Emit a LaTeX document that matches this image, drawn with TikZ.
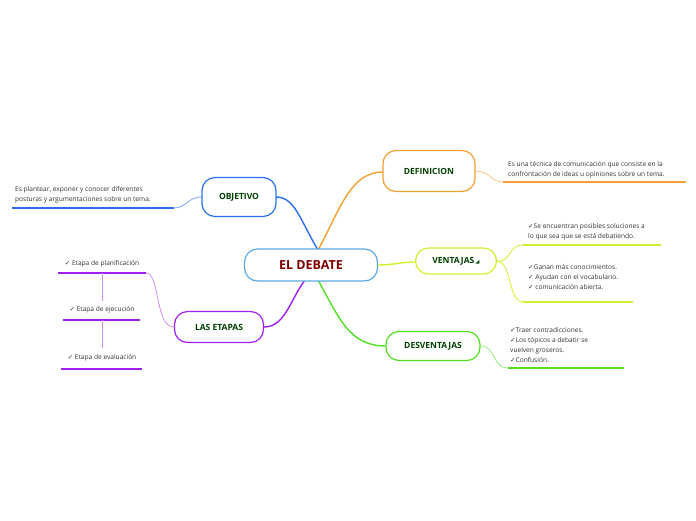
\documentclass[tikz,border=0pt]{standalone}
\usepackage{fontspec}
\setmainfont{Open Sans}
\newfontfamily\djv{DejaVu Sans}
\newcommand\ck{{\djv\char"2713}}
\begin{document}
\begin{tikzpicture}[x=1pt,y=-1pt,
  main/.style={draw,rounded corners=13pt,line width=1.2pt,font=\fontsize{8.5}{10}\selectfont\bfseries,text=green!25!black,fill=white},
  leaf/.style={font=\fontsize{6.6}{9.8}\selectfont,text=black!80,align=left,anchor=west,inner sep=0},
  conn/.style={line width=1.4pt},
  thin/.style={line width=0.8pt},
  ul/.style={line width=1.5pt}]
\useasboundingbox (0,0) rectangle (696,520);
\definecolor{cblue}{HTML}{2A6EF0}\definecolor{corange}{HTML}{F5A030}
\definecolor{cyel}{HTML}{D4EE2C}\definecolor{cgreen}{HTML}{50E020}
\definecolor{cpurp}{HTML}{A020F0}\definecolor{clb}{HTML}{5AA9E6}
% connectors center->main
\coordinate (c1) at (318,250);\coordinate (c2) at (318,280);\coordinate (c3) at (305,280);\coordinate (c4) at (376,265);
\draw[conn,cblue] (c1) .. controls (300,220) and (295,197) .. (276,197);
\draw[conn,corange] (c1) .. controls (340,210) and (350,172) .. (383,172);
\draw[conn,cyel] (c4) .. controls (395,265) and (400,262) .. (416,262);
\draw[conn,cgreen] (c2) .. controls (340,320) and (350,346) .. (386,346);
\draw[conn,cpurp] (c3) .. controls (290,300) and (285,327) .. (264,327);
\node[main,draw=clb,minimum width=133pt,minimum height=32pt,font=\fontsize{12.5}{14}\selectfont\bfseries,text=red!50!black] (center) at (311,265) {EL DEBATE};
\node[main,draw=cblue,minimum width=74pt,minimum height=39pt] (obj) at (239,197) {OBJETIVO};
\node[main,draw=corange,minimum width=92pt,minimum height=41pt] (def) at (429,171) {DEFINICION};
\node[main,draw=cyel,minimum width=81pt,minimum height=26pt] (ven) at (456,261) {VENTAJAS\,{\djv\fontsize{5}{5}\selectfont\char"25E2}};
\node[main,draw=cgreen,minimum width=94pt,minimum height=29pt] (des) at (433,346) {DESVENTAJAS};
\node[main,draw=cpurp,minimum width=89pt,minimum height=31pt] (eta) at (219,327) {LAS ETAPAS};
% leaves
\coordinate (uo1) at (12,208);\coordinate (uo2) at (174,208);
\node[leaf] (to) at (15,195) {Es plantear, exponer y conocer diferentes\\posturas y argumentaciones sobre un tema.};
\draw[ul,cblue] (uo1)--(uo2);
\draw[thin,cblue!60] (obj.west) .. controls (188,197) and (186,208) .. (uo2);
\coordinate (ud1) at (503,182);\coordinate (ud2) at (686,182);
\node[leaf] (td) at (508,170) {Es una técnica de comunicación que consiste en la\\confrontación de ideas u opiniones  sobre un tema.};
\draw[ul,corange] (ud1)--(ud2);
\draw[thin,corange!60] (def.east) .. controls (492,172) and (490,182) .. (ud1);
\coordinate (uv1) at (523,245);\coordinate (uv2) at (661,245);
\coordinate (uv3) at (523,302);\coordinate (uv4) at (633,302);
\node[leaf] (tv1) at (528,232) {\ck Se encuentran posibles soluciones a\\lo que sea que se está debatiendo.};
\node[leaf] (tv2) at (528,277) {\ck Ganan más conocimientos.\\\ck{} Ayudan con el vocabulario.\\\ck{} comunicación abierta.};
\draw[ul,cyel] (uv1)--(uv2);\draw[ul,cyel] (uv3)--(uv4);
\draw[thin,cyel] (ven.east) .. controls (512,262) and (508,245) .. (uv1);
\draw[thin,cyel] (ven.east) .. controls (512,262) and (508,302) .. (uv3);
\coordinate (us1) at (508,368);\coordinate (us2) at (624,368);
\node[leaf] (ts) at (510,345) {\ck Traer contradicciones.\\\ck Los tópicos a debatir se\\vuelven groseros.\\\ck Confusión.};
\draw[ul,cgreen] (us1)--(us2);
\draw[thin,cgreen!60] (des.east) .. controls (496,346) and (492,368) .. (us1);
\coordinate (ue1) at (58,273);\coordinate (ue2) at (146,273);
\coordinate (ue3) at (63,320);\coordinate (ue4) at (140,320);
\coordinate (ue5) at (61,369);\coordinate (ue6) at (142,369);
\coordinate (v1) at (102,273);\coordinate (v2) at (102,301);
\coordinate (v3) at (102,320);\coordinate (v4) at (102,348);
\node[leaf,anchor=center] (te1) at (102,264) {\ck{} Etapa de planificación};
\node[leaf,anchor=center] (te2) at (102,310) {\ck{} Etapa de ejecución};
\node[leaf,anchor=center] (te3) at (102,358) {\ck{} Etapa de evaluación};
\draw[ul,cpurp] (ue1)--(ue2);\draw[ul,cpurp] (ue3)--(ue4);\draw[ul,cpurp] (ue5)--(ue6);
\draw[thin,cpurp!50] (eta.west) .. controls (155,327) and (160,273) .. (ue2);
\draw[thin,cpurp!50] (v1)--(v2);
\draw[thin,cpurp!50] (v3)--(v4);
\end{tikzpicture}
\end{document}
